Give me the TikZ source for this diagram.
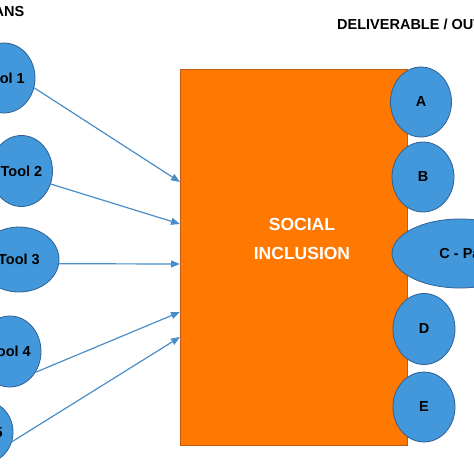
\documentclass[tikz,border=0pt]{standalone}
\usepackage{fontspec}
\setmainfont{Liberation Sans}
\usetikzlibrary{shapes.geometric,arrows.meta}
\definecolor{bubble}{RGB}{66,152,218}
\definecolor{bubbleline}{RGB}{48,96,148}
\definecolor{boxfill}{RGB}{255,120,0}
\definecolor{boxline}{RGB}{196,90,20}
\definecolor{arrowc}{RGB}{74,142,200}
\tikzset{
  bubbl/.style={ellipse,draw=bubbleline,fill=bubble,line width=0.8pt,inner sep=0pt,
    font=\bfseries\fontsize{14.5}{16}\selectfont,text=black},
  heading/.style={font=\bfseries\fontsize{14.5}{16}\selectfont,inner sep=0pt},
  conn/.style={draw=arrowc,line width=1.2pt,-{Triangle[length=9pt,width=7pt]}}
}
\begin{document}
\begin{tikzpicture}[x=1pt,y=-1pt]
\useasboundingbox (0,0) rectangle (474,474);
% central box
\node[draw=boxline,fill=boxfill,line width=0.8pt,minimum width=227pt,minimum height=376pt,inner sep=0pt] (box) at (293.5,257) {};
\node[align=center,text=white,font=\bfseries\fontsize{17.5}{29}\selectfont] (lbl) at (302,238.5) {SOCIAL\\INCLUSION};
% headings
\node[heading,anchor=east] (hl) at (24.5,12) {ANS};
\node[heading,anchor=west] (hr) at (337,24) {DELIVERABLE / OUT};
% left tools
\node[bubbl,minimum width=62pt,minimum height=70pt] (t1) at (4,78) {Tool 1};
\node[bubbl,minimum width=62pt,minimum height=71pt] (t2) at (21.5,171) {Tool 2};
\node[bubbl,minimum width=80pt,minimum height=65pt] (t3) at (19,259.5) {Tool 3};
\node[bubbl,minimum width=62pt,minimum height=71pt] (t4) at (10,351.5) {Tool 4};
\node[bubbl,minimum width=62pt,minimum height=64pt] (t5) at (-18,432) {Tool 5};
% right deliverables
\node[bubbl,minimum width=61pt,minimum height=70pt] (a) at (421,102) {A};
\node[bubbl,minimum width=62pt,minimum height=70pt] (b) at (423,177) {B};
\node[bubbl,minimum width=136pt,minimum height=69pt] (c) at (460,253.5) {C - Pa};
\node[bubbl,minimum width=62pt,minimum height=71pt] (d) at (424,329) {D};
\node[bubbl,minimum width=62pt,minimum height=70pt] (e) at (424,407) {E};
% arrow targets on the box edge
\coordinate (e1) at (180,182);
\coordinate (e2) at (180,224);
\coordinate (e3) at (180,264);
\coordinate (e4) at (180,312);
\coordinate (e5) at (180,337);
\draw[conn] (t1.-18) -- (e1);
\draw[conn] (t2.-24) -- (e2);
\draw[conn] (t3.-6) -- (e3);
\draw[conn] (t4.-39) -- (e4);
\draw[conn] (t5.-18) -- (e5);
\end{tikzpicture}
\end{document}
